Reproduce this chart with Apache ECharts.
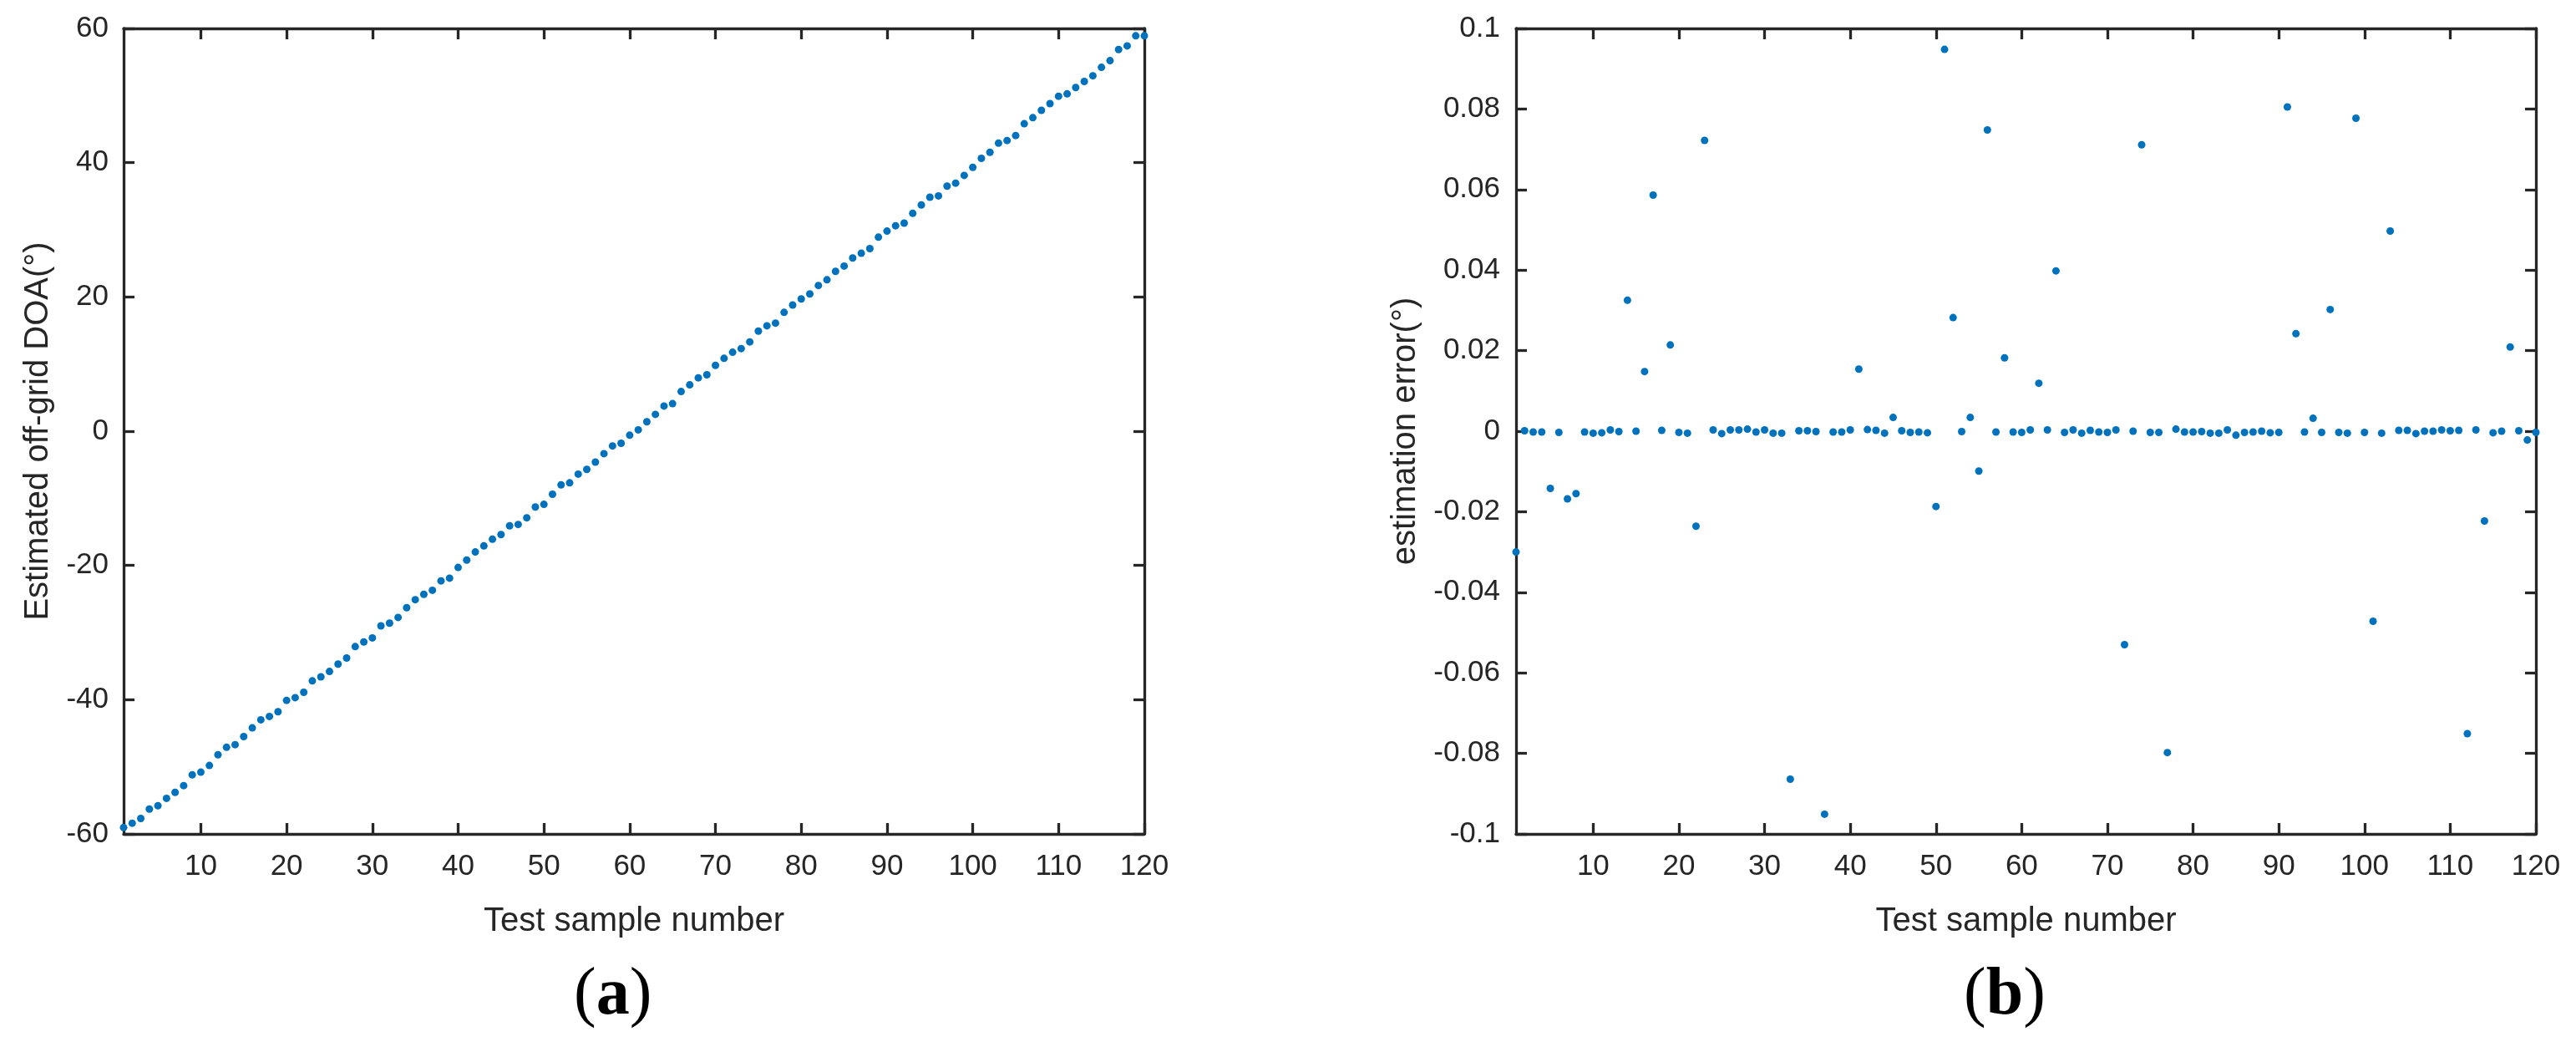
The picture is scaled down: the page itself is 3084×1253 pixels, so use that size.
<!DOCTYPE html>
<html><head><meta charset="utf-8">
<script src="https://cdn.jsdelivr.net/npm/echarts@6/dist/echarts.min.js"></script>
<style>html,body{margin:0;padding:0;background:#fff}#c{width:3084px;height:1253px}</style>
</head><body><div id="c"></div>
<script>
// sample index 1..120
const samples = Array.from({length: 120}, (_, i) => i + 1);

const estimatedDOA = [
  -59.05, -58.4, -57.7, -56.3, -55.8, -54.7, -53.8, -52.8, -51.2, -50.8,
  -49.8, -48.2, -47.1, -46.7, -45.5, -44.2, -43.0, -42.5, -41.8, -40.1,
  -39.7, -38.9, -37.2, -36.6, -35.8, -34.7, -33.8, -32.1, -31.4, -30.8,
  -29.0, -28.6, -27.75, -26.3, -25.1, -24.3, -23.7, -22.3, -21.9, -20.3,
  -19.2, -18.0, -17.1, -16.1, -15.4, -14.1, -13.9, -12.9, -11.3, -10.9,
  -9.4, -8.0, -7.7, -6.4, -5.7, -4.6, -3.35, -2.2, -1.8, -0.6,
  0.2, 1.4, 2.5, 3.75, 4.1, 5.9, 6.9, 7.95, 8.4, 9.8,
  10.85, 11.75, 12.3, 13.3, 14.9, 15.7, 16.1, 17.7, 18.8, 19.7,
  20.45, 21.7, 22.55, 23.8, 24.6, 25.8, 26.5, 27.2, 28.9, 29.8,
  30.6, 31.0, 32.45, 33.7, 34.85, 35.05, 36.5, 36.95, 38.1, 39.3,
  40.65, 41.55, 42.9, 43.3, 44.05, 45.8, 46.7, 47.8, 48.8, 49.9,
  50.25, 51.2, 52.1, 52.95, 54.2, 55.2, 56.85, 57.4, 58.9, 58.9
];

const estimationError = [
  -0.0300, 0.0001, -0.0002, -0.0002, -0.0142, -0.0003, -0.0168, -0.0155, -0.0002, -0.0005,
  -0.0004, 0.0003, -0.0001, 0.0325, 0.0000, 0.0148, 0.0586, 0.0002, 0.0214, -0.0003,
  -0.0005, -0.0236, 0.0722, 0.0003, -0.0006, 0.0003, 0.0003, 0.0005, -0.0002, 0.0003,
  -0.0005, -0.0005, -0.0864, 0.0001, 0.0001, -0.0001, -0.0951, -0.0002, -0.0002, 0.0003,
  0.0154, 0.0004, 0.0002, -0.0005, 0.0034, 0.0001, -0.0003, -0.0002, -0.0004, -0.0187,
  0.0948, 0.0282, -0.0001, 0.0034, -0.0099, 0.0748, -0.0002, 0.0182, -0.0002, -0.0003,
  0.0003, 0.0119, 0.0003, 0.0398, -0.0003, 0.0003, -0.0005, 0.0002, -0.0002, -0.0003,
  0.0003, -0.0530, 0.0000, 0.0711, -0.0003, -0.0003, -0.0798, 0.0005, -0.0002, -0.0002,
  -0.0001, -0.0005, -0.0005, 0.0003, -0.0010, -0.0003, -0.0002, 0.0000, -0.0004, -0.0003,
  0.0805, 0.0242, -0.0002, 0.0032, -0.0003, 0.0302, -0.0003, -0.0005, 0.0777, -0.0003,
  -0.0472, -0.0005, 0.0497, 0.0002, 0.0002, -0.0006, 0.0000, 0.0000, 0.0003, 0.0001,
  0.0002, -0.0751, 0.0003, -0.0223, -0.0004, 0.0000, 0.0209, 0.0001, -0.0022, -0.0003
];

const xTicks = [10, 20, 30, 40, 50, 60, 70, 80, 90, 100, 110, 120];
const yTicksA = [-60, -40, -20, 0, 20, 40, 60];
const yTicksB = [-0.1, -0.08, -0.06, -0.04, -0.02, 0, 0.02, 0.04, 0.06, 0.08, 0.1];

const xTitle = 'Test sample number';
const yTitleA = 'Estimated off-grid DOA(°)';
const yTitleB = 'estimation error(°)';

const INK = '#262626';
const DOT = '#0072BD';
const FONT = '"Liberation Sans", Arial, Helvetica, sans-serif';
const lineStyle = {color: INK, width: 3.3};

function xAxisPair(gridIndex) {
  const base = {
    type: 'value', gridIndex, min: 1, max: 120,
    splitLine: {show: false},
    axisLine: {show: true, onZero: false, lineStyle},
    axisTick: {show: true, inside: true, length: 13, lineStyle, customValues: xTicks}
  };
  return [
    Object.assign({}, base, {
      position: 'bottom',
      axisLabel: {show: true, customValues: xTicks, margin: 22, color: INK, fontSize: 35, fontFamily: FONT},
      name: xTitle, nameLocation: 'middle', nameGap: 85,
      nameTextStyle: {color: INK, fontSize: 40, fontFamily: FONT}
    }),
    Object.assign({}, base, {position: 'top', axisLabel: {show: false}})
  ];
}

function yAxisPair(gridIndex, min, max, ticks, title, nameGap, margin) {
  const base = {
    type: 'value', gridIndex, min, max,
    splitLine: {show: false},
    axisLine: {show: true, onZero: false, lineStyle},
    axisTick: {show: true, inside: true, length: 13, lineStyle, customValues: ticks}
  };
  return [
    Object.assign({}, base, {
      position: 'left',
      axisLabel: {show: true, customValues: ticks, margin, color: INK, fontSize: 35, fontFamily: FONT,
        formatter: v => String(parseFloat(Number(v).toFixed(4)))},
      name: title, nameLocation: 'middle', nameGap, nameRotate: 90,
      nameTextStyle: {color: INK, fontSize: 40, fontFamily: FONT}
    }),
    Object.assign({}, base, {position: 'right', axisLabel: {show: false}})
  ];
}

const serif = '"Liberation Serif", "Times New Roman", serif';
function panelLabel(letter, cx) {
  return {type: 'text', left: cx - 44, top: 1152, style: {
    text: '{p|(}{b|' + letter + '}{p|)}',
    rich: {p: {fontFamily: serif, fontSize: 80, fill: '#000'},
           b: {fontFamily: serif, fontSize: 80, fontWeight: 'bold', fill: '#000'}}
  }};
}

const chart = echarts.init(document.getElementById('c'), null, {renderer: 'canvas'});
chart.setOption({
  backgroundColor: '#ffffff',
  animation: false,
  grid: [
    {left: 148, top: 34, width: 1222, height: 964, containLabel: false, outerBoundsMode: 'none'},
    {left: 1815, top: 34, width: 1221, height: 964, containLabel: false, outerBoundsMode: 'none'}
  ],
  xAxis: [...xAxisPair(0), ...xAxisPair(1)],
  yAxis: [...yAxisPair(0, -60, 60, yTicksA, yTitleA, 82, 18), ...yAxisPair(1, -0.1, 0.1, yTicksB, yTitleB, 112, 19)],
  graphic: [panelLabel('a', 731), panelLabel('b', 2395)],
  series: [
    {type: 'scatter', xAxisIndex: 0, yAxisIndex: 0, symbol: 'circle', symbolSize: 9, clip: false,
     itemStyle: {color: DOT, opacity: 1}, emphasis: {disabled: true}, data: samples.map((s, i) => [s, estimatedDOA[i]])},
    {type: 'scatter', xAxisIndex: 2, yAxisIndex: 2, symbol: 'circle', symbolSize: 9, clip: false,
     itemStyle: {color: DOT, opacity: 1}, emphasis: {disabled: true}, data: samples.map((s, i) => [s, estimationError[i]])}
  ]
});
</script>
</body></html>
